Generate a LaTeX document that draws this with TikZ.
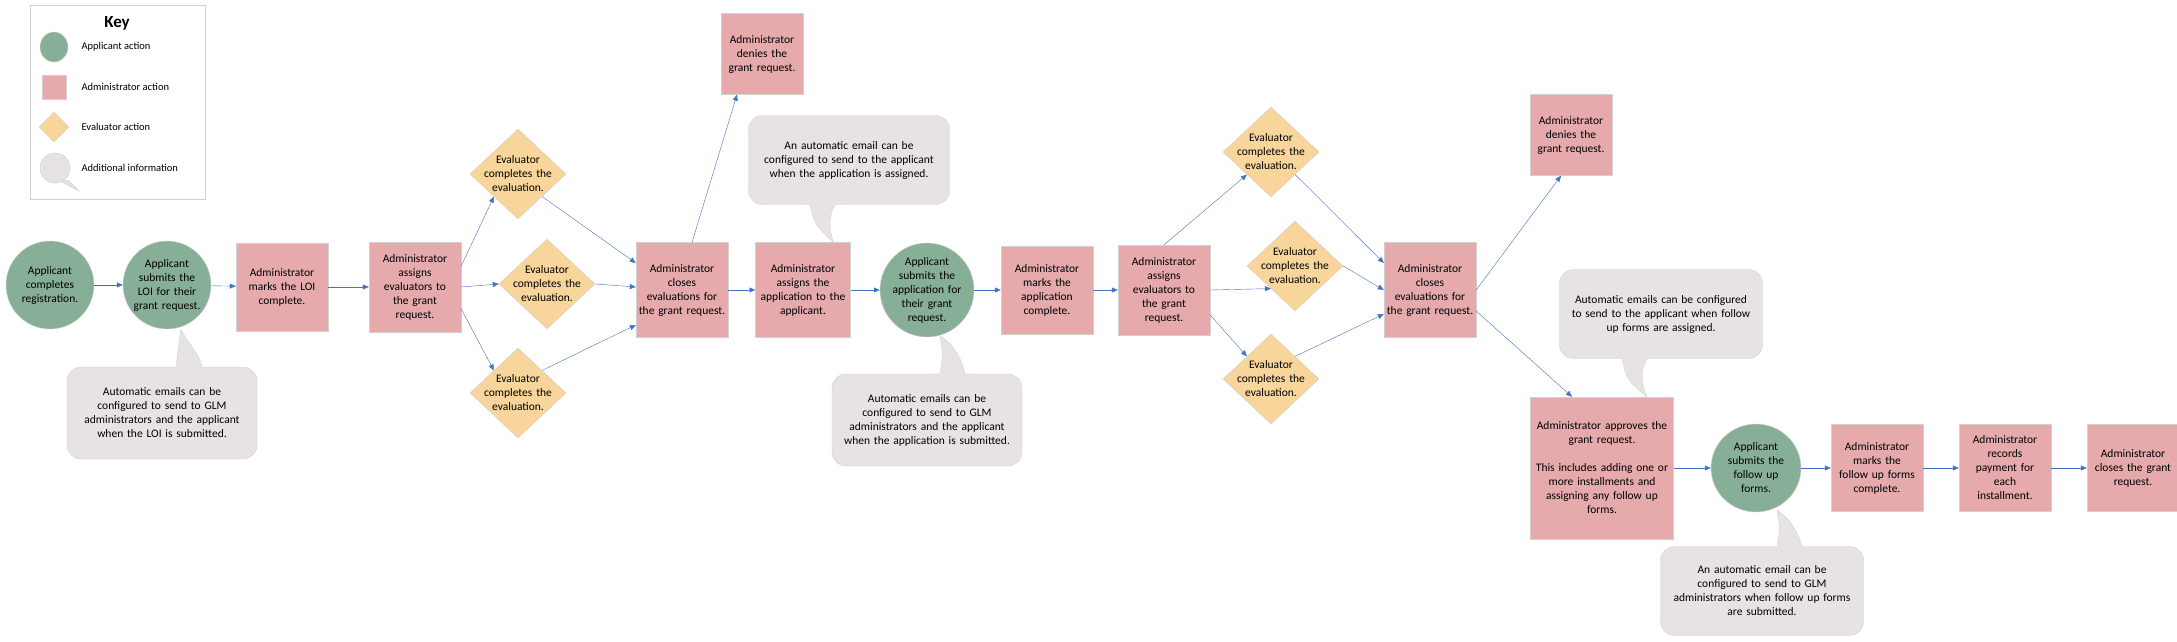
\documentclass[tikz,border=0pt]{standalone}
\usepackage{fontspec}
\setmainfont{Carlito}
\usetikzlibrary{shapes.geometric,arrows.meta}
\definecolor{appgreen}{HTML}{87AF97}
\definecolor{admpink}{HTML}{E6AAAD}
\definecolor{evalyellow}{HTML}{F7D59B}
\definecolor{infogray}{HTML}{E6E3E2}
\definecolor{edgegray}{HTML}{D2D0CF}
\definecolor{flowblue}{HTML}{4472C4}
\tikzset{
  base/.style={font=\fontsize{11.5}{14}\selectfont, align=center, inner sep=0pt},
  applicant/.style={base, ellipse, fill=appgreen, draw=edgegray, inner sep=-8pt, minimum width=88, minimum height=88, text width=76},
  admin/.style={base, rectangle, fill=admpink, draw=edgegray, minimum width=90, minimum height=90, text width=92},
  evaluator/.style={base, diamond, fill=evalyellow, draw=edgegray, text width=68, inner sep=-7pt, minimum width=96, minimum height=90},
  info/.style={base, rectangle, rounded corners=14, fill=infogray, draw=edgegray, text width=190},
  flow/.style={-{Triangle[length=6pt,width=5pt]}, flowblue, thin},
}
\begin{document}
\begin{tikzpicture}[x=1pt,y=-1pt]
  \useasboundingbox (0,0) rectangle (2177,642);

  % Key
  \node[draw=edgegray, minimum width=175, minimum height=194, anchor=north west] (key) at (30,5) {};
  \node[font=\bfseries\fontsize{17}{20}\selectfont] (keytitle) at (117,23) {Key};
  \node[ellipse, fill=appgreen, draw=edgegray, minimum width=28, minimum height=30] (keyapp) at (54,47) {};
  \node[rectangle, fill=admpink, draw=edgegray, minimum size=24] (keyadm) at (54,87) {};
  \node[diamond, fill=evalyellow, draw=edgegray, minimum size=30] (keyeval) at (54,127) {};
  \fill[infogray, draw=edgegray] (60,181) -- (79,191) -- (68,180) -- cycle;
  \node[circle, fill=infogray, draw=edgegray, minimum size=30] (keyinfo) at (55,168) {};
  \foreach \y/\txt in {47/Applicant action, 87/Administrator action, 127/Evaluator action, 168/Additional information}
    \node[font=\fontsize{10.5}{12}\selectfont, anchor=west] at (78,\y) {\txt};

  % Letter of inquiry
  \node[applicant] (reg) at (50,285) {Applicant\\completes\\registration.};
  \node[applicant] (loi) at (167,285) {Applicant\\submits the\\LOI for their\\grant request.};
  \node[admin, minimum height=88] (loidone) at (282,287) {Administrator\\marks the LOI\\complete.};
  \node[admin] (assign1) at (415,287) {Administrator\\assigns\\evaluators to\\the grant\\request.};
  \node[evaluator] (evalA) at (518,174) {Evaluator\\completes the\\evaluation.};
  \node[evaluator] (evalB) at (547,284) {Evaluator\\completes the\\evaluation.};
  \node[evaluator] (evalC) at (518,393) {Evaluator\\completes the\\evaluation.};
  \node[admin, minimum height=95] (close1) at (682,290) {Administrator\\closes\\evaluations for\\the grant request.};
  \node[admin, minimum width=82, minimum height=81, text width=80] (deny1) at (762,54) {Administrator\\denies the\\grant request.};

  % Application
  \node[admin, minimum width=95, minimum height=95, text width=95] (appassign) at (803,290) {Administrator\\assigns the\\application to the\\applicant.};
  \node[applicant, minimum width=94, minimum height=94] (appsubmit) at (927,290) {Applicant\\submits the\\application for\\their grant\\request.};
  \node[admin, minimum width=87, minimum height=88] (appdone) at (1047,290) {Administrator\\marks the\\application\\complete.};
  \node[admin] (assign2) at (1164,290) {Administrator\\assigns\\evaluators to\\the grant\\request.};
  \node[evaluator] (evalD) at (1271,152) {Evaluator\\completes the\\evaluation.};
  \node[evaluator] (evalE) at (1295,266) {Evaluator\\completes the\\evaluation.};
  \node[evaluator] (evalF) at (1271,379) {Evaluator\\completes the\\evaluation.};
  \node[admin, minimum height=95] (close2) at (1430,290) {Administrator\\closes\\evaluations for\\the grant request.};
  \node[admin, minimum width=82, minimum height=81, text width=80] (deny2) at (1571,135) {Administrator\\denies the\\grant request.};

  % Award and follow up
  \node[admin, minimum width=143, minimum height=142, text width=140] (approve) at (1602,468) {Administrator approves the\\grant request.\\[14pt]This includes adding one or\\more installments and\\assigning any follow up\\forms.};
  \node[applicant, minimum width=90, minimum height=88] (followup) at (1756,468) {Applicant\\submits the\\follow up\\forms.};
  \node[admin, minimum width=89, minimum height=87] (followdone) at (1877,468) {Administrator\\marks the\\follow up forms\\complete.};
  \node[admin, minimum width=89, minimum height=87] (payment) at (2005,468) {Administrator\\records\\payment for\\each\\installment.};
  \node[admin, minimum width=89, minimum height=87] (closegrant) at (2133,468) {Administrator\\closes the grant\\request.};

  % Information callouts
  \node[info, minimum width=187, minimum height=92] (loimail) at (162,413) {Automatic emails can be\\configured to send to GLM\\administrators and the applicant\\when the LOI is submitted.};
  \node[info, minimum width=201, minimum height=89] (assignmail) at (849,160) {An automatic email can be\\configured to send to the applicant\\when the application is assigned.};
  \node[info, minimum width=186, minimum height=92] (appmail) at (927,420) {Automatic emails can be\\configured to send to GLM\\administrators and the applicant\\when the application is submitted.};
  \node[info, minimum width=203, minimum height=89] (followmail) at (1661,314) {Automatic emails can be configured\\to send to the applicant when follow\\up forms are assigned.};
  \node[info, minimum width=203, minimum height=89] (followsubmail) at (1762,591) {An automatic email can be\\configured to send to GLM\\administrators when follow up forms\\are submitted.};

  % Callout tails
  \fill[infogray] (176,368) .. controls (178,350) .. (181,329) .. controls (188,345) and (199,352) .. (202,368) -- cycle;
  \draw[edgegray] (176,367) .. controls (178,350) .. (181,329) .. controls (188,345) and (199,352) .. (202,367);
  \fill[infogray] (810,204) .. controls (815,225) .. (834,243) .. controls (828,228) and (829,214) .. (835,204) -- cycle;
  \draw[edgegray] (810,205) .. controls (815,225) .. (834,243) .. controls (828,228) and (829,214) .. (835,205);
  \fill[infogray] (940,375) .. controls (943,355) .. (940,336) .. controls (955,345) and (962,360) .. (965,375) -- cycle;
  \draw[edgegray] (940,374) .. controls (943,355) .. (940,336) .. controls (955,345) and (962,360) .. (965,374);
  \fill[infogray] (1622,358) .. controls (1627,380) .. (1647,397) .. controls (1640,383) and (1641,368) .. (1647,358) -- cycle;
  \draw[edgegray] (1622,359) .. controls (1627,380) .. (1647,397) .. controls (1640,383) and (1641,368) .. (1647,359);
  \fill[infogray] (1777,548) .. controls (1780,528) .. (1777,510) .. controls (1792,520) and (1799,535) .. (1802,548) -- cycle;
  \draw[edgegray] (1777,547) .. controls (1780,528) .. (1777,510) .. controls (1792,520) and (1799,535) .. (1802,547);

  % Flow
  \draw[flow] (reg) -- (loi);
  \draw[flow] (loi) -- (loidone);
  \draw[flow] (loidone) -- (assign1);
  \draw[flow] ([yshift=21pt]assign1.east) -- (evalA.south west);
  \draw[flow] (assign1.east) -- (evalB.west);
  \draw[flow] ([yshift=-22pt]assign1.east) -- (evalC.north west);
  \draw[flow] (evalA.south east) -- ([yshift=27pt]close1.west);
  \draw[flow] (evalB.east) -- ([yshift=3pt]close1.west);
  \draw[flow] (evalC.north east) -- ([yshift=-35pt]close1.west);
  \draw[flow] ([xshift=10pt]close1.north) -- ([xshift=-25pt]deny1.south);
  \draw[flow] (close1) -- (appassign);
  \draw[flow] (appassign) -- (appsubmit);
  \draw[flow] (appsubmit) -- (appdone);
  \draw[flow] (appdone) -- (assign2);
  \draw[flow] (assign2.north) -- (evalD.south west);
  \draw[flow] (assign2.east) -- (evalE.south west);
  \draw[flow] ([yshift=-25pt]assign2.east) -- (evalF.north west);
  \draw[flow] (evalD.south east) -- ([yshift=27pt]close2.west);
  \draw[flow] (evalE.east) -- (close2.west);
  \draw[flow] (evalF.north east) -- ([yshift=-24pt]close2.west);
  \draw[flow] (close2.east) -- ([xshift=-10pt]deny2.south);
  \draw[flow] ([yshift=-21pt]close2.east) -- ([xshift=-30pt]approve.north);
  \draw[flow] (approve) -- (followup);
  \draw[flow] (followup) -- (followdone);
  \draw[flow] (followdone) -- (payment);
  \draw[flow] (payment) -- (closegrant);
\end{tikzpicture}
\end{document}
